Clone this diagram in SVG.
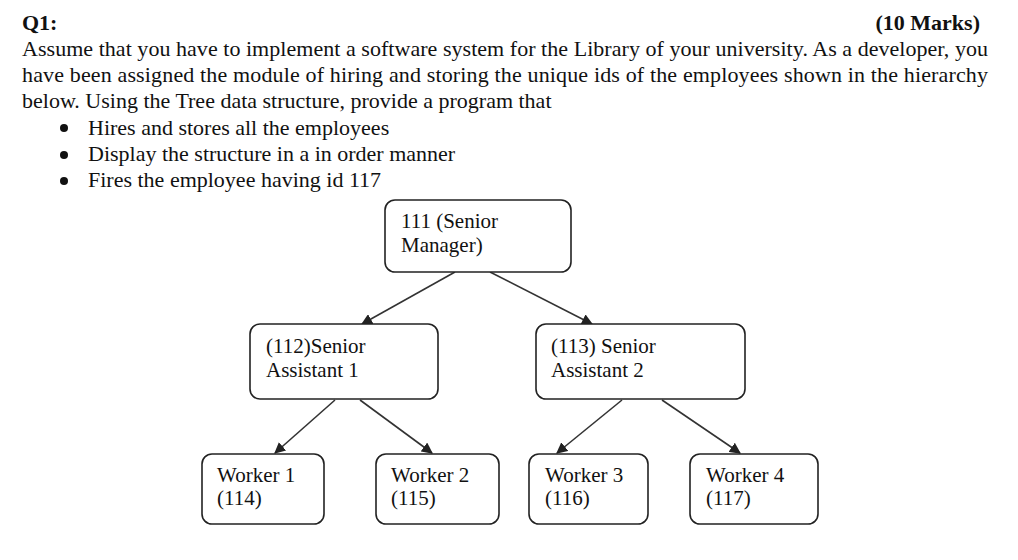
<svg xmlns="http://www.w3.org/2000/svg" width="1018" height="560" viewBox="0 0 1018 560">
<style>
text{font-family:"Liberation Serif",serif;fill:#111}
.p{font-size:22px}
.n{font-size:21px}
.box{fill:#fff;stroke:#222;stroke-width:1.6}
.e{stroke:#333;stroke-width:1.6;fill:none;marker-end:url(#a)}
</style>
<defs><marker id="a" viewBox="0 0 10 10" refX="9" refY="5" markerWidth="7" markerHeight="7" orient="auto"><path d="M0,0L10,5L0,10z" fill="#222"/></marker></defs>
<rect width="1018" height="560" fill="#fff"/>
<text class="p" x="22" y="30" font-weight="bold">Q1:</text>
<text class="p" x="980" y="30" font-weight="bold" text-anchor="end">(10 Marks)</text>
<text class="p" x="22" y="56" textLength="966" lengthAdjust="spacing">Assume that you have to implement a software system for the Library of your university. As a developer, you</text>
<text class="p" x="22" y="82" textLength="966" lengthAdjust="spacing">have been assigned the module of hiring and storing the unique ids of the employees shown in the hierarchy</text>
<text class="p" x="22" y="108">below. Using the Tree data structure, provide a program that</text>
<circle cx="64" cy="128" r="4" fill="#111"/><text class="p" x="88" y="135">Hires and stores all the employees</text>
<circle cx="64" cy="155" r="4" fill="#111"/><text class="p" x="88" y="161">Display the structure in a in order manner</text>
<circle cx="64" cy="181" r="4" fill="#111"/><text class="p" x="88" y="187">Fires the employee having id 117</text>
<g id="edges">
<line class="e" x1="455" y1="272" x2="362" y2="324"/>
<line class="e" x1="490" y1="272" x2="592" y2="324"/>
<line class="e" x1="335" y1="400" x2="275" y2="453"/>
<line class="e" x1="360" y1="400" x2="432" y2="453"/>
<line class="e" x1="622" y1="400" x2="557" y2="453"/>
<line class="e" x1="662" y1="400" x2="740" y2="453"/>
</g>
<g id="n111"><rect class="box" x="385" y="200" width="186" height="72" rx="10"/><text class="n" x="401" y="228">111 (Senior</text><text class="n" x="401" y="252">Manager)</text></g>
<g id="n112"><rect class="box" x="250" y="324" width="188" height="75" rx="10"/><text class="n" x="266" y="353">(112)Senior</text><text class="n" x="266" y="377">Assistant 1</text></g>
<g id="n113"><rect class="box" x="536" y="324" width="209" height="75" rx="10"/><text class="n" x="551" y="353">(113) Senior</text><text class="n" x="551" y="377">Assistant 2</text></g>
<g id="n114"><rect class="box" x="202" y="454" width="122" height="70" rx="10"/><text class="n" x="217" y="482">Worker 1</text><text class="n" x="217" y="505">(114)</text></g>
<g id="n115"><rect class="box" x="376" y="454" width="123" height="70" rx="10"/><text class="n" x="391" y="482">Worker 2</text><text class="n" x="391" y="505">(115)</text></g>
<g id="n116"><rect class="box" x="529" y="454" width="119" height="70" rx="10"/><text class="n" x="545" y="482">Worker 3</text><text class="n" x="545" y="505">(116)</text></g>
<g id="n117"><rect class="box" x="690" y="454" width="128" height="70" rx="10"/><text class="n" x="706" y="482">Worker 4</text><text class="n" x="706" y="505">(117)</text></g>
</svg>
